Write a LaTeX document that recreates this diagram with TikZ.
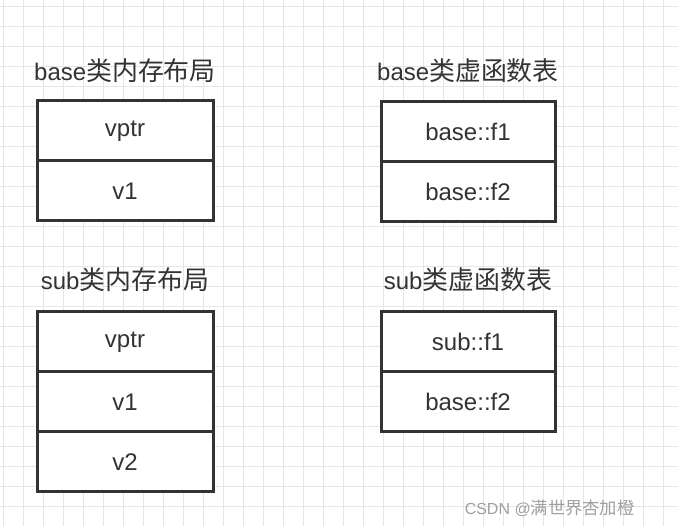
\documentclass[tikz,border=0pt]{standalone}
\usepackage{fontspec}
\setmainfont{Liberation Sans}
\newfontfamily\cjk[Scale=1.08]{Noto Sans CJK SC}
\usetikzlibrary{positioning}
\definecolor{ink}{HTML}{333333}
\definecolor{gridgray}{HTML}{E6E6E6}
\tikzset{
  cell/.style={draw=ink, line width=3pt, outer sep=0pt, fill=white,
    minimum width=176pt, minimum height=60pt, text=ink,
    font=\fontsize{24}{28}\selectfont},
  title/.style={text=ink, font=\fontsize{24}{28}\selectfont},
}
\begin{document}
\begin{tikzpicture}[x=1pt,y=-1pt]
  \useasboundingbox (0,0) rectangle (678,526);

  % 网格
  \foreach \x in {3,23,...,663}
    \draw[gridgray, line width=1pt] (\x,0) -- (\x,526);
  \foreach \y in {7,27,...,527}
    \draw[gridgray, line width=1pt] (0,\y) -- (678,\y);

  % base类内存布局
  \node[title] (baseMem) at (125,71) {base{\cjk 类内存布局}};
  \node[cell] (baseVptr) at (125,131) {vptr};
  \node[cell, below=0pt of baseVptr] (baseV1) {v1};

  % base类虚函数表
  \node[title] (baseTab) at (468,71) {base{\cjk 类虚函数表}};
  \node[cell, minimum width=174pt] (baseF1) at (468,132) {base::f1};
  \node[cell, minimum width=174pt, below=0pt of baseF1] (baseF2) {base::f2};

  % sub类内存布局
  \node[title] (subMem) at (125,280) {sub{\cjk 类内存布局}};
  \node[cell] (subVptr) at (125,342) {vptr};
  \node[cell, below=0pt of subVptr] (subV1) {v1};
  \node[cell, below=0pt of subV1] (subV2) {v2};

  % sub类虚函数表
  \node[title] (subTab) at (468,280) {sub{\cjk 类虚函数表}};
  \node[cell, minimum width=174pt] (subF1) at (468,342) {sub::f1};
  \node[cell, minimum width=174pt, below=0pt of subF1] (subF2) {base::f2};

  % 水印
  \node[anchor=east, text=gray!75, font=\fontsize{16}{19}\selectfont] (mark)
    at (638,508) {CSDN @{\cjk 满世界杏加橙}};
\end{tikzpicture}
\end{document}
